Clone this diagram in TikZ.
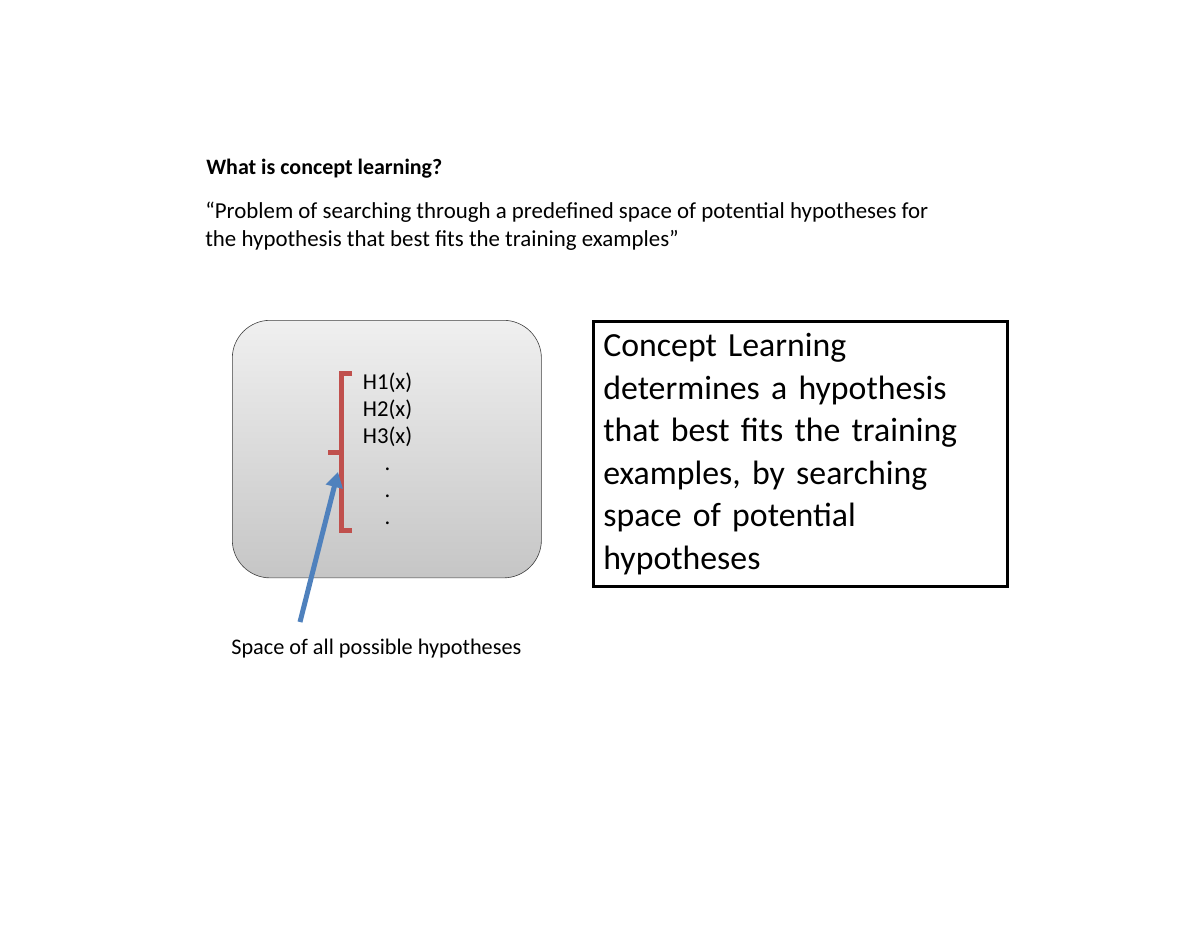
\documentclass[tikz,border=0pt]{standalone}
\usepackage{fontspec}
\setmainfont{Carlito}
\usetikzlibrary{arrows.meta,shapes}
\definecolor{hypred}{HTML}{C0504D}
\definecolor{hypblue}{HTML}{4F81BD}
\tikzset{
  >={Triangle[width=11pt,length=10pt]},
  plain/.style={anchor=base west, inner sep=0pt, align=left,
                font=\fontsize{14.7}{18.5}\selectfont},
  space/.style={rectangle, rounded corners=25pt, draw=black!75, thin,
                top color=gray!12, bottom color=gray!45,
                minimum width=204pt, minimum height=170pt, anchor=north west},
  defbox/.style={rectangle, draw=black, line width=2pt, anchor=north west,
                 minimum width=273pt, minimum height=175pt, inner sep=5.5pt,
                 text width=260pt, align=left, font=\fontsize{22.3}{28}\selectfont},
  hyps/.style={inner sep=0pt, align=center, anchor=base,
               font=\fontsize{15}{17.8}\selectfont},
  brace/.style={draw=hypred, line width=3.3pt},
  pointer/.style={draw=hypblue, line width=3.3pt, ->}
}

\begin{document}
\begin{tikzpicture}[x=0.66pt,y=-0.66pt]
\useasboundingbox (0,0) rectangle (1200,927);
\node[plain, font=\fontsize{14.5}{18.5}\selectfont\bfseries] (title) at (206,174) {What is concept learning?};
\node[plain, font=\fontsize{15.1}{18.5}\selectfont] (quote) at (205,246.7) {``Problem of searching through a predefined space of potential hypotheses for\\
the hypothesis that best fits the training examples''};
% space of hypotheses
\node[space] (hspace) at (232,320) {};
\node[hyps] (hlist) at (387.5,524) {H1(x)\\H2(x)\\H3(x)\\.\\.\\.};
\coordinate (btop) at (352,373);
\coordinate (bbot) at (352,530);
\coordinate (bmid) at (328,452);
\draw[brace] (btop) -- (341,373) -- (341,530) -- (bbot);
\draw[brace] (341,452) -- (bmid);
\node[plain] (label) at (231,654) {Space of all possible hypotheses};
\coordinate (tail) at (300,622);
\coordinate (tip) at (338,472);
\draw[pointer] (tail) -- (tip);
% definition
\node[defbox] (defn) at (592,320) {Concept Learning\\
determines a hypothesis\\
that best fits the training\\
examples, by searching\\
space of potential\\
hypotheses};
\end{tikzpicture}
\end{document}
